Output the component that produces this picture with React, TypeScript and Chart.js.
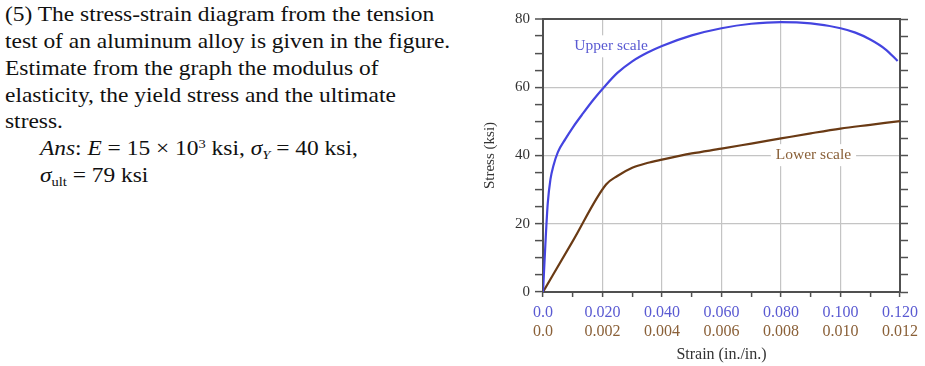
import React, { useEffect, useRef } from "react";
import { Chart, registerables } from "chart.js";

Chart.register(...registerables);

// Upper scale curve (strain 0 – 0.12)
const upperStrain = [0, 0.0008, 0.0016, 0.0025, 0.0035, 0.005, 0.0075, 0.01, 0.0135, 0.017, 0.0205, 0.025, 0.03, 0.035, 0.04, 0.05, 0.06, 0.07, 0.08, 0.09, 0.1, 0.105, 0.11, 0.115, 0.1192];
const upperStress = [0, 14, 26, 33, 37, 41, 44.8, 48.2, 52.4, 56.4, 60, 64.2, 67.6, 70.1, 72.1, 75.2, 77.3, 78.6, 79.1, 78.7, 77.3, 76.0, 74.0, 71.2, 67.7];

// Lower scale curve (strain 0 – 0.012)
const lowerStrain = [0, 0.001, 0.00212, 0.0025, 0.003, 0.0035, 0.004, 0.005, 0.006, 0.007, 0.008, 0.009, 0.01, 0.011, 0.012];
const lowerStress = [0, 14.9, 31.5, 34.0, 36.4, 37.8, 38.8, 40.6, 42.0, 43.5, 45.0, 46.5, 47.9, 49.0, 50.1];

const upperTickLabels = ["0.0", "0.020", "0.040", "0.060", "0.080", "0.100", "0.120"];
const lowerTickLabels = ["0.0", "0.002", "0.004", "0.006", "0.008", "0.010", "0.012"];
const stressTickLabels = ["0", "20", "40", "60", "80"];

const curveLabels = [
  { text: "Upper scale", scale: "x", xValue: 0.0229, yValue: 72, color: "#5a5ad2" },
  { text: "Lower scale", scale: "x2", xValue: 0.00909, yValue: 40.1, color: "#8a6038" },
];

const SERIF = "'Liberation Serif', 'Times New Roman', serif";
const AXIS = "#505050";
const GRID = "#c4c4c4";

const labelPlugin = {
  id: "curveLabels",
  beforeDatasetsDraw(chart: any) {
    const ctx = chart.ctx;
    ctx.save();
    ctx.font = `15.5px ${SERIF}`;
    ctx.textAlign = "center";
    ctx.textBaseline = "middle";
    for (const l of curveLabels) {
      const px = chart.scales[l.scale].getPixelForValue(l.xValue);
      const py = chart.scales.y.getPixelForValue(l.yValue);
      const w = ctx.measureText(l.text).width;
      ctx.fillStyle = "#ffffff";
      ctx.fillRect(px - w / 2 - 5, py - 11, w + 10, 22);
      ctx.fillStyle = l.color;
      ctx.fillText(l.text, px, py);
    }
    ctx.restore();
  },
};

function StressStrainChart() {
  const ref = useRef<HTMLCanvasElement | null>(null);
  useEffect(() => {
    if (!ref.current) return;
    const chart = new Chart(ref.current, {
      type: "line",
      data: {
        datasets: [
          {
            label: "Upper scale",
            data: upperStrain.map((x, i) => ({ x, y: upperStress[i] })),
            xAxisID: "x",
            yAxisID: "y",
            borderColor: "#4444e0",
            borderWidth: 2.2,
            pointRadius: 0,
            cubicInterpolationMode: "monotone",
            fill: false,
          },
          {
            label: "Lower scale",
            data: lowerStrain.map((x, i) => ({ x, y: lowerStress[i] })),
            xAxisID: "x2",
            yAxisID: "y",
            borderColor: "#6a3a14",
            borderWidth: 2.2,
            pointRadius: 0,
            cubicInterpolationMode: "monotone",
            fill: false,
          },
        ],
      },
      options: {
        responsive: false,
        animation: false,
        devicePixelRatio: 1,
        layout: { padding: { top: 19, left: 0, right: 0, bottom: 0 } },
        plugins: { legend: { display: false }, tooltip: { enabled: false } },
        scales: {
          x: {
            type: "linear",
            position: "bottom",
            weight: 0,
            min: 0,
            max: 0.12,
            afterFit: (s: any) => { s.height = 30; },
            ticks: {
              stepSize: 0.01,
              autoSkip: false,
              maxRotation: 0,
              padding: 6,
              color: "#5a5ad2",
              font: { family: SERIF, size: 16 },
              callback: (_v: any, i: number) => (i % 2 === 0 ? upperTickLabels[i / 2] : ""),
            },
            grid: {
              color: (c: any) => (c.index % 2 === 0 ? GRID : "rgba(0,0,0,0)"),
              tickColor: AXIS,
              tickLength: 5,
              lineWidth: 1.2,
              tickWidth: 1.5,
            },
            border: { color: AXIS, width: 2 },
          },
          x2: {
            type: "linear",
            position: "bottom",
            weight: 1,
            min: 0,
            max: 0.012,
            afterFit: (s: any) => { s.height = 44; },
            ticks: {
              stepSize: 0.002,
              autoSkip: false,
              maxRotation: 0,
              padding: 0,
              color: "#8a6038",
              font: { family: SERIF, size: 16 },
              callback: (_v: any, i: number) => lowerTickLabels[i],
            },
            grid: { display: false, drawTicks: false, tickLength: 0 },
            border: { display: false },
            title: {
              display: true,
              text: "Strain (in./in.)",
              color: "#333333",
              font: { family: SERIF, size: 16 },
              padding: { top: 0, bottom: 2 },
            },
          },
          y: {
            type: "linear",
            position: "left",
            min: 0,
            max: 80,
            afterFit: (s: any) => { s.width = 73; },
            ticks: {
              stepSize: 5,
              autoSkip: false,
              padding: 5,
              color: "#333333",
              font: { family: SERIF, size: 15 },
              callback: (v: any) => (Number(v) % 20 === 0 ? stressTickLabels[Number(v) / 20] : ""),
            },
            grid: {
              color: (c: any) => {
                const v = c.tick ? c.tick.value : 0;
                if (v === 80) return AXIS;
                return v % 20 === 0 ? GRID : "rgba(0,0,0,0)";
              },
              lineWidth: (c: any) => (c.tick && c.tick.value === 80 ? 2 : 1.2),
              tickColor: AXIS,
              tickLength: 8,
              tickWidth: 1.5,
            },
            border: { color: AXIS, width: 2 },
            title: {
              display: true,
              text: "Stress (ksi)",
              color: "#333333",
              font: { family: SERIF, size: 15 },
              padding: { top: 11, bottom: 0 },
            },
          },
          y2: {
            type: "linear",
            position: "right",
            min: 0,
            max: 80,
            afterFit: (s: any) => { s.width = 25; },
            ticks: { stepSize: 5, display: false },
            grid: {
              drawOnChartArea: false,
              tickColor: AXIS,
              tickLength: 8,
              tickWidth: 1.5,
            },
            border: { color: AXIS, width: 2 },
          },
        },
      } as any,
      plugins: [labelPlugin],
    });
    return () => chart.destroy();
  }, []);
  return <canvas ref={ref} width={455} height={366} style={{ position: "absolute", left: 470, top: 0, width: 455, height: 366 }} />;
}

const lineStyle: React.CSSProperties = { whiteSpace: "nowrap" };
const subSup: React.CSSProperties = { fontSize: "0.62em", lineHeight: 0, position: "relative" };

export default function App() {
  return (
    <div style={{ position: "absolute", left: 0, top: 0, width: 925, height: 366, background: "#ffffff", overflow: "hidden" }}>
      <div
        style={{
          position: "absolute",
          left: 5,
          top: 1.3,
          fontFamily: SERIF,
          fontSize: 21.5,
          lineHeight: "26.8px",
          color: "#111111",
          transform: "scaleX(1.09)",
          transformOrigin: "0 0",
        }}
      >
        <div style={lineStyle}>(5) The stress-strain diagram from the tension</div>
        <div style={lineStyle}>test of an aluminum alloy is given in the figure.</div>
        <div style={lineStyle}>Estimate from the graph the modulus of</div>
        <div style={lineStyle}>elasticity, the yield stress and the ultimate</div>
        <div style={lineStyle}>stress.</div>
        <div style={{ ...lineStyle, paddingLeft: 32 }}>
          <i>Ans</i>: <i>E</i> = 15 × 10<span style={{ ...subSup, top: "-0.55em" }}>3</span> ksi,{" "}
          <i>σ</i><i style={{ ...subSup, top: "0.3em" }}>Y</i> = 40 ksi,
        </div>
        <div style={{ ...lineStyle, paddingLeft: 32 }}>
          <i>σ</i><span style={{ ...subSup, top: "0.3em" }}>ult</span> = 79 ksi
        </div>
      </div>
      <StressStrainChart />
    </div>
  );
}
